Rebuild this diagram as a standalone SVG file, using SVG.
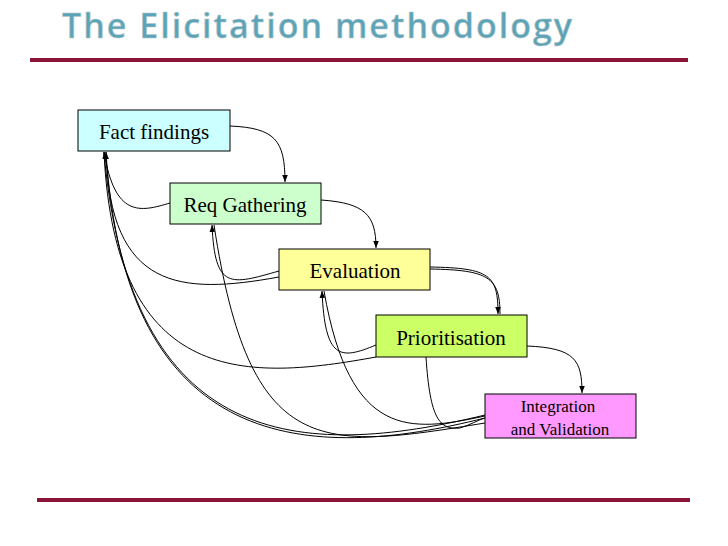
<svg xmlns="http://www.w3.org/2000/svg" width="728" height="546" viewBox="0 0 728 546">
<style>
.t{font-family:"Liberation Serif",serif;fill:#000}
.b{stroke:#000;stroke-width:1}
.c path{fill:none;stroke:#000;stroke-width:1}
</style>
<defs><marker id="a" viewBox="0 0 10 10" refX="10" refY="5" markerWidth="7" markerHeight="7" orient="auto"><path d="M0,1 L10,5 L0,9z" fill="#000"/></marker></defs>
<rect width="728" height="546" fill="#fff"/>
<text x="62" y="38" font-family="'Open Sans',sans-serif" font-size="34" font-weight="600" fill="#5ba3b6" stroke="#b8c8cc" stroke-width="0.6" textLength="510">The Elicitation methodology</text>
<line x1="30" y1="60" x2="688" y2="60" stroke="#8b1538" stroke-width="4"/>
<line x1="37" y1="500" x2="690" y2="500" stroke="#8b1538" stroke-width="4"/>
<g class="c">
<path d="M230,126 C275,128 285,140 285,182" marker-end="url(#a)"/>
<path d="M321,200 C365,203 376,215 376,248" marker-end="url(#a)"/>
<path d="M430,267 C490,268 498,275 498,314" marker-end="url(#a)"/>
<path d="M430,269 C488,270 500,277 500,314"/>
<path d="M527,346 C575,348 582,360 582,393" marker-end="url(#a)"/>
<path d="M170,203 C140,212 115,218 104,152" marker-end="url(#a)"/>
<path d="M279,277 C180,295 110,290 106,152" marker-end="url(#a)"/>
<path d="M376,357 C250,380 115,390 104,152"/>
<path d="M485,415 C300,460 130,450 104,152"/>
<path d="M485,418 C310,462 125,455 106,152"/>
<path d="M279,271 C230,285 215,290 212,225" marker-end="url(#a)"/>
<path d="M485,423 C320,450 250,460 214,225"/>
<path d="M376,345 C340,360 325,360 322,291" marker-end="url(#a)"/>
<path d="M485,416 C410,432 350,440 324,291"/>
<path d="M426,357 C430,420 440,430 460,428 C470,425 478,420 485,418"/>
</g>
<g id="n1"><rect class="b" x="78" y="110" width="152" height="41" fill="#ccffff"/><text class="t" x="154" y="139" font-size="21" text-anchor="middle">Fact findings</text></g>
<g id="n2"><rect class="b" x="170" y="183" width="151" height="41" fill="#ccffcc"/><text class="t" x="245" y="212" font-size="21" text-anchor="middle">Req Gathering</text></g>
<g id="n3"><rect class="b" x="279" y="249" width="151" height="41" fill="#ffff99"/><text class="t" x="355" y="278" font-size="21" text-anchor="middle">Evaluation</text></g>
<g id="n4"><rect class="b" x="376" y="315" width="151" height="42" fill="#ccff66"/><text class="t" x="451" y="345" font-size="21" text-anchor="middle">Prioritisation</text></g>
<g id="n5"><rect class="b" x="485" y="394" width="151" height="44" fill="#ff99ff"/><text class="t" x="558" y="412" font-size="17" text-anchor="middle">Integration</text><text class="t" x="560" y="435" font-size="17" text-anchor="middle">and Validation</text></g>
</svg>
